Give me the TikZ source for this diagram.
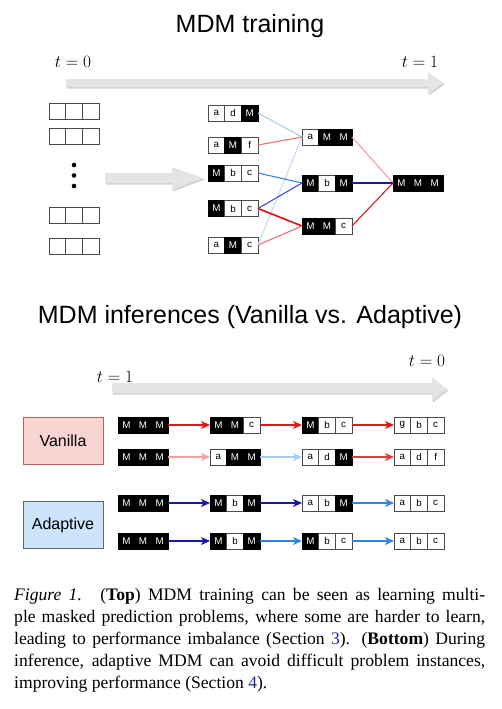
\documentclass[tikz,border=0pt]{standalone}
\usepackage{fontspec}
\setmainfont{Liberation Serif}
\setsansfont{Liberation Sans}
\usetikzlibrary{arrows.meta,calc}
\definecolor{cellgray}{HTML}{4A4A4A}
\definecolor{arrowgray}{HTML}{E4E4E4}
\definecolor{arrowshadow}{HTML}{D2D2D2}
\definecolor{lblue}{HTML}{A6CDF2}
\definecolor{vlblue}{HTML}{C4DEF7}
\definecolor{mblue}{HTML}{2D86E6}
\definecolor{vblue}{HTML}{4848DC}
\definecolor{dblue}{HTML}{1616A8}
\definecolor{lred}{HTML}{EE7070}
\definecolor{pred}{HTML}{F2A0A0}
\definecolor{sred}{HTML}{DC1A1A}
\definecolor{linkblue}{HTML}{1E2A9C}
\definecolor{vanfill}{HTML}{F8D5D3}
\definecolor{vandraw}{HTML}{B8625E}
\definecolor{adafill}{HTML}{CCE4FC}
\definecolor{adadraw}{HTML}{5C6670}
\def\tokM{M}
\newcommand{\tokcell}[4]{%
  \def\tokarg{#4}%
  \ifx\tokarg\tokM
    \node[cellB] (#1) at (#2,#3) {M};%
  \else
    \node[cellW] (#1) at (#2,#3) {#4};%
  \fi}
\newcommand{\tokseq}[6]{%
  \node[seqframe] (#1) at (#2,#3) {};%
  \tokcell{#1-1}{#2-16.667}{#3}{#4}%
  \tokcell{#1-2}{#2}{#3}{#5}%
  \tokcell{#1-3}{#2+16.667}{#3}{#6}}
\begin{document}
\begin{tikzpicture}[x=1pt,y=-1pt,
  seqframe/.style={rectangle, minimum width=50pt, minimum height=16pt, inner sep=0pt, outer sep=0pt},
  cellW/.style={rectangle, draw=cellgray, fill=white, line width=0.7pt, minimum width=16.667pt, minimum height=16pt, inner sep=0pt, font=\sffamily\fontsize{9.8}{10}\selectfont, text=black},
  cellB/.style={cellW, fill=black, draw=black, text=white},
  conn/.style={line width=1.1pt},
  thickconn/.style={line width=1.7pt},
  arr/.style={line width=1.2pt, -{Stealth[length=9pt,width=8pt,inset=2.5pt]}},
  titletext/.style={font=\sffamily\fontsize{25}{30}\selectfont, inner sep=0pt, anchor=base},
  tlabel/.style={font=\fontsize{17}{20}\selectfont, inner sep=0pt, anchor=base},
  method/.style={rectangle, minimum width=80pt, minimum height=47pt, inner sep=0pt, line width=0.8pt, font=\sffamily\fontsize{16}{18}\selectfont},
  capline/.style={inner sep=0pt, anchor=base west, font=\fontsize{17.6}{22}\selectfont}
]
\useasboundingbox (0,0) rectangle (502,709);

% ---------- Top: MDM training ----------
\node[titletext] (title1) at (250,33) {MDM training};
\node[tlabel] (tz1) at (73,67) {$t=0$};
\node[tlabel] (to1) at (420,67) {$t=1$};

% big time arrow (top)
\fill[arrowshadow] (67,80.5) -- (429,80.5) -- (429,73.5) -- (444.5,84.5) -- (429,95.5) -- (429,88.5) -- (67,88.5) -- cycle;
\fill[arrowgray] (66,79) -- (428,79) -- (428,72) -- (443,83) -- (428,94) -- (428,87) -- (66,87) -- cycle;

% empty sequences
\tokseq{e1}{74}{111}{}{}{}
\tokseq{e2}{74}{136}{}{}{}
\tokseq{e3}{74}{215.5}{}{}{}
\tokseq{e4}{74}{246.5}{}{}{}
\fill (74,165) circle (2.3pt);
\fill (74,175.5) circle (2.3pt);
\fill (74,186) circle (2.3pt);

% middle arrow
\fill[arrowshadow] (106,174.5) -- (173,174.5) -- (173,168.5) -- (204.5,179.5) -- (173,191.5) -- (173,184.5) -- (106,184.5) -- cycle;
\fill[arrowgray] (105,173) -- (172,173) -- (172,167) -- (203,178) -- (172,190) -- (172,183) -- (105,183) -- cycle;

% masked problems
\tokseq{t1}{233}{113}{a}{d}{M}
\tokseq{t2}{233}{145}{a}{M}{f}
\tokseq{t3}{233}{173}{M}{b}{c}
\tokseq{t4}{233}{208.5}{M}{b}{c}
\tokseq{t5}{233}{245}{a}{M}{c}
\tokseq{m1}{327}{137}{a}{M}{M}
\tokseq{m2}{327}{183}{M}{b}{M}
\tokseq{m3}{327}{226}{M}{M}{c}
\tokseq{r1}{418}{183}{M}{M}{M}

\draw[conn, vlblue] (t5.east) -- (m1.west);
\draw[conn, lblue] (t1.east) -- (m1.west);
\draw[conn, lred] (t2.east) -- (m1.west);
\draw[conn, mblue] (t3.east) -- (m2.west);
\draw[conn, vblue] (t4.east) -- (m2.west);
\draw[thickconn, sred] (t4.east) -- (m3.west);
\draw[conn, lred] (t5.east) -- (m3.west);
\draw[conn, pred] (m1.east) -- (r1.west);
\draw[thickconn, dblue] (m2.east) -- (r1.west);
\draw[conn, sred] (m3.east) -- (r1.west);

% ---------- Bottom: inferences ----------
\node[titletext] (title2) at (250,323) {MDM inferences (Vanilla vs. Adaptive)};
\node[tlabel] (to2) at (115,382) {$t=1$};
\node[tlabel] (tz2) at (427,366) {$t=0$};

\fill[arrowshadow] (113,384.5) -- (433,384.5) -- (433,378.5) -- (448.5,390.5) -- (433,402.5) -- (433,394.5) -- (113,394.5) -- cycle;
\fill[arrowgray] (112,383) -- (432,383) -- (432,377) -- (447,389) -- (432,401) -- (432,393) -- (112,393) -- cycle;

\node[method, fill=vanfill, draw=vandraw] (van) at (63,440.5) {Vanilla};
\node[method, fill=adafill, draw=adadraw] (ada) at (63,525) {Adaptive};

% row 1
\tokseq{a1}{143}{425}{M}{M}{M}
\tokseq{a2}{235}{425}{M}{M}{c}
\tokseq{a3}{327}{425}{M}{b}{c}
\tokseq{a4}{419}{425}{g}{b}{c}
% row 2
\tokseq{b1}{143}{457}{M}{M}{M}
\tokseq{b2}{235}{457}{a}{M}{M}
\tokseq{b3}{327}{457}{a}{d}{M}
\tokseq{b4}{419}{457}{a}{d}{f}
% row 3
\tokseq{c1}{143}{503}{M}{M}{M}
\tokseq{c2}{235}{503}{M}{b}{M}
\tokseq{c3}{327}{503}{a}{b}{M}
\tokseq{c4}{419}{503}{a}{b}{c}
% row 4
\tokseq{d1}{143}{541}{M}{M}{M}
\tokseq{d2}{235}{541}{M}{b}{M}
\tokseq{d3}{327}{541}{M}{b}{c}
\tokseq{d4}{419}{541}{a}{b}{c}

\draw[arr, sred] (a1.east) -- (a2.west);
\draw[arr, sred] (a2.east) -- (a3.west);
\draw[arr, sred] (a3.east) -- (a4.west);
\draw[arr, pred] (b1.east) -- (b2.west);
\draw[arr, lblue] (b2.east) -- (b3.west);
\draw[arr, sred!85!white] (b3.east) -- (b4.west);
\draw[arr, dblue] (c1.east) -- (c2.west);
\draw[arr, dblue] (c2.east) -- (c3.west);
\draw[arr, mblue] (c3.east) -- (c4.west);
\draw[arr, dblue] (d1.east) -- (d2.west);
\draw[arr, mblue] (d2.east) -- (d3.west);
\draw[arr, mblue] (d3.east) -- (d4.west);

% ---------- Caption ----------
\node[capline] (cap1) at (14,600) {\hbox to 471pt{\textit{Figure 1.}\hspace{4pt} (\textbf{Top}) MDM training can be seen as learning multi-}};
\node[capline] (cap2) at (14,622) {\hbox to 471pt{ple masked prediction problems, where some are harder to learn,}};
\node[capline] (cap3) at (14,644) {\hbox to 471pt{leading to performance imbalance (Section {\color{linkblue}3}). (\textbf{Bottom}) During}};
\node[capline] (cap4) at (14,666) {\hbox to 471pt{inference, adaptive MDM can avoid difficult problem instances,}};
\node[capline] (cap5) at (14,688) {improving performance (Section {\color{linkblue}4}).};
\end{tikzpicture}
\end{document}
